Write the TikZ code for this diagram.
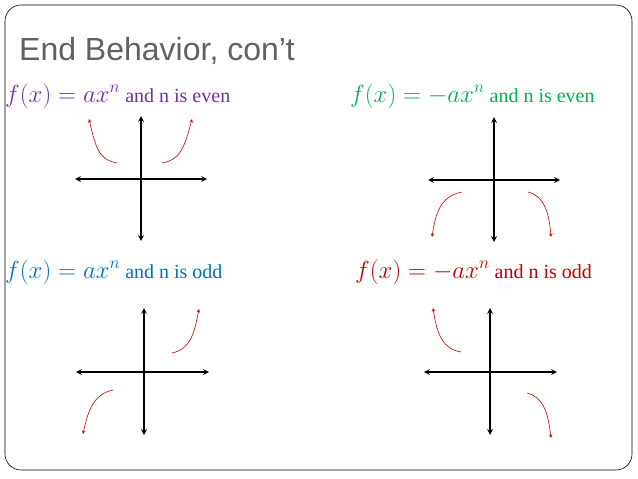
\documentclass[tikz,border=0pt]{standalone}
\usepackage{fontspec}
\setmainfont{Liberation Serif}
\newfontfamily\titlefont{Liberation Sans}
\newcommand{\mth}[1]{{\fontsize{25}{27}\selectfont$#1$}}
\begin{document}
\begin{tikzpicture}[x=1pt,y=-1pt,
 axis/.style={black,line width=1.6pt,<->,>=stealth},
 crv/.style={red!80!black,line width=0.6pt,->,>=stealth},
 lab/.style={anchor=base west,inner sep=0pt,font=\rmfamily\fontsize{20}{22}\selectfont}]
\useasboundingbox (0,0) rectangle (638,479);
\draw[line width=0.6pt,rounded corners=16pt] (5,5) rectangle (632,470);
\node[anchor=base west,inner sep=0pt,text=black!62,font=\titlefont\fontsize{32}{34}\selectfont] (t) at (19,60) {End Behavior, con’t};
\definecolor{cp}{RGB}{112,48,160}\definecolor{cg}{RGB}{0,176,80}
\definecolor{cb}{RGB}{0,112,192}\definecolor{cr}{RGB}{192,0,0}
\node[lab,text=cp] (l1) at (5,102) {\mth{f(x)=ax^n} and n is even};
\node[lab,text=cg] (l2) at (350,102) {\mth{f(x)=-ax^n} and n is even};
\node[lab,text=cb] (l3) at (5,278) {\mth{f(x)=ax^n} and n is odd};
\node[lab,text=cr] (l4) at (355,278) {\mth{f(x)=-ax^n} and n is odd};
% TL
\coordinate (a1)at(75,179);\coordinate(a2)at(207,179);\coordinate(a3)at(141,116);\coordinate(a4)at(141,241);
\draw[axis](a1)--(a2);\draw[axis](a3)--(a4);
\coordinate(c1)at(117,163);\coordinate(c2)at(89,119);\coordinate(c3)at(162,163);\coordinate(c4)at(192,119);
\draw[crv](c1) .. controls (100,160) and (96,150) .. (c2);
\draw[crv](c3) .. controls (179,160) and (184,150) .. (c4);
% TR
\coordinate (b1)at(428,180);\coordinate(b2)at(560,180);\coordinate(b3)at(494,117);\coordinate(b4)at(494,242);
\draw[axis](b1)--(b2);\draw[axis](b3)--(b4);
\coordinate(d1)at(462,192);\coordinate(d2)at(432,237);\coordinate(d3)at(528,192);\coordinate(d4)at(551,237);
\draw[crv](d1) .. controls (442,196) and (436,210) .. (d2);
\draw[crv](d3) .. controls (544,196) and (549,212) .. (d4);
% BL
\coordinate (e1)at(76,372);\coordinate(e2)at(209,372);\coordinate(e3)at(144,308);\coordinate(e4)at(144,435);
\draw[axis](e1)--(e2);\draw[axis](e3)--(e4);
\coordinate(f1)at(172,353);\coordinate(f2)at(199,309);\coordinate(f3)at(113,390);\coordinate(f4)at(83,434);
\draw[crv](f1) .. controls (190,349) and (194,335) .. (f2);
\draw[crv](f3) .. controls (94,394) and (88,410) .. (f4);
% BR
\coordinate (g1)at(424,372);\coordinate(g2)at(557,372);\coordinate(g3)at(490,308);\coordinate(g4)at(490,435);
\draw[axis](g1)--(g2);\draw[axis](g3)--(g4);
\coordinate(h1)at(461,352);\coordinate(h2)at(433,308);\coordinate(h3)at(527,393);\coordinate(h4)at(551,438);
\draw[crv](h1) .. controls (443,349) and (437,335) .. (h2);
\draw[crv](h3) .. controls (543,397) and (548,412) .. (h4);
\end{tikzpicture}
\end{document}
